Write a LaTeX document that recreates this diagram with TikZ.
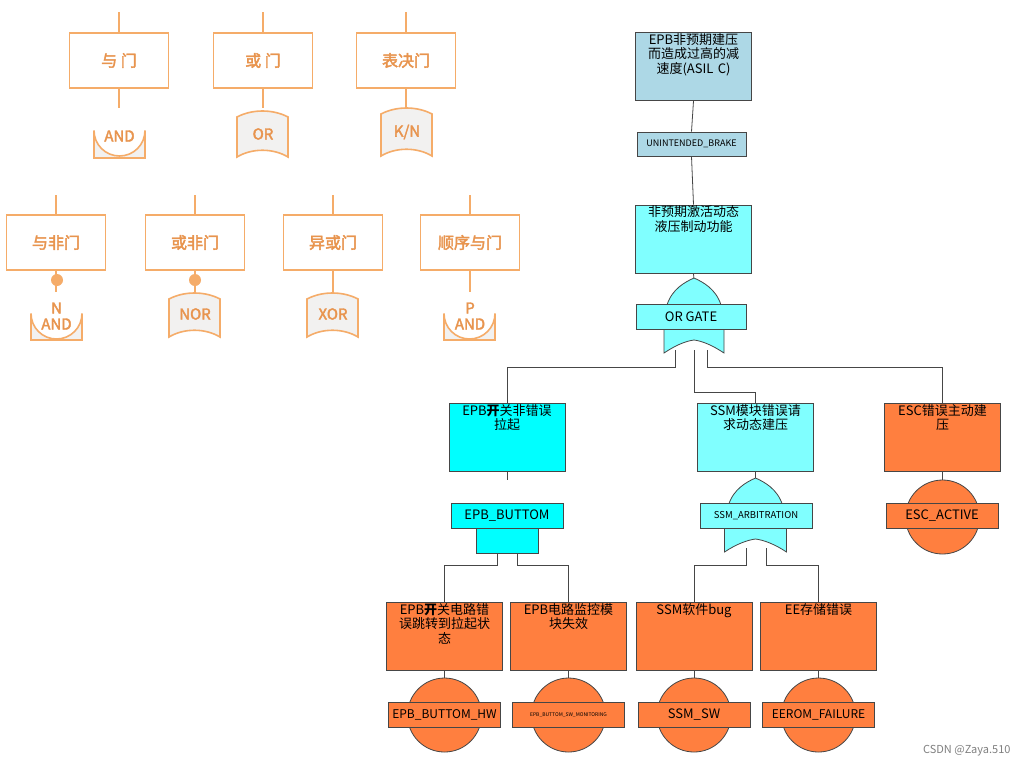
\documentclass[tikz,border=0pt]{standalone}
\usepackage{fontspec}
\setmainfont{Noto Sans CJK SC}
\newfontfamily\cjkb{Noto Sans CJK SC}[FakeBold=2.5]
\definecolor{lgo}{RGB}{245,172,105}
\definecolor{lgt}{RGB}{232,148,78}
\definecolor{lgf}{RGB}{242,241,240}
\definecolor{topb}{RGB}{173,216,230}
\definecolor{lcy}{RGB}{128,255,255}
\definecolor{cy}{RGB}{0,255,255}
\definecolor{org}{RGB}{255,127,63}
\definecolor{ln}{RGB}{70,70,70}
\tikzset{
 lbox/.style={draw=lgo,line width=1.6pt,fill=white,minimum width=99pt,minimum height=55pt,inner sep=0pt,font=\cjkb\fontsize{16}{18}\selectfont,text=lgt},
 lline/.style={draw=lgo,line width=1.6pt},
 lgate/.style={draw=lgo,line width=1.6pt,fill=lgf},
 ltxt/.style={font=\cjkb\fontsize{15}{16}\selectfont,text=lgt,align=center,inner sep=0pt},
 tbox/.style={draw=ln,line width=0.8pt,minimum width=116pt,minimum height=68pt,inner sep=0pt},
 ttxt/.style={font=\fontsize{13}{14.5}\selectfont,align=center,text width=118pt,inner sep=1pt},
 glab/.style={draw=ln,line width=0.8pt,minimum width=112pt,minimum height=25pt,inner sep=0pt,font=\fontsize{13}{14}\selectfont},
 gsh/.style={draw=ln,line width=0.8pt},
 conn/.style={draw=ln,line width=0.8pt},
}
\newcommand\LAnd[3]{% x1, ytop, ybot ; width 51
 \path[lgate] (#1,#3) -- (#1,{#2+25.5}) arc[start angle=180,end angle=0,radius=25.5] -- ({#1+51},#3) -- cycle;}
\newcommand\LOr[3]{%
 \path[lgate] (#1,#3) -- (#1,{#2+7}) .. controls ({#1+15},{#2-1}) and ({#1+36},{#2-1}) .. ({#1+51},{#2+7}) -- ({#1+51},#3) .. controls ({#1+36},{#3-9}) and ({#1+15},{#3-9}) .. (#1,#3) -- cycle;}
\newcommand\TOr[5]{% cx, dome top, label bottom, half width base, fill
 \path[gsh,fill=#5] ({#1-27},{#2+27}) .. controls ({#1-22},{#2+11}) and ({#1-9},{#2+4}) .. (#1,#2) .. controls ({#1+9},{#2+4}) and ({#1+22},{#2+11}) .. ({#1+27},{#2+27}) -- cycle;
 \path[gsh,fill=#5] ({#1-#4},{#3-2}) -- ({#1-#4},{#3+24}) .. controls ({#1-#4+12},{#3+16}) and ({#1-8},{#3+12}) .. (#1,{#3+11}) .. controls ({#1+8},{#3+12}) and ({#1+#4-12},{#3+16}) .. ({#1+#4},{#3+24}) -- ({#1+#4},{#3-2}) -- cycle;}
\begin{document}
\begin{tikzpicture}[x=1pt,y=-1pt]
\useasboundingbox[fill=white] (0,0) rectangle (1027,769);
% ---------- legend ----------
\foreach \cx/\t/\n in {119/与 门/la,263/或 门/lb,406/表决门/lc}{
 \node[lbox] (\n) at (\cx,60.5) {\t};
 \draw[lline] (\cx,12) -- (\n.north);
 \draw[lline] (\n.south) -- (\cx,108);
}
\LAnd{94}{105}{158}\node[ltxt] (ta) at (119.5,136) {AND};
\LOr{237}{110}{157}\node[ltxt] (tb) at (263,134) {OR};
\LOr{381}{107}{156}\node[ltxt] (tc) at (407,132) {K/N};
\foreach \cx/\t/\n in {56/与非门/ld,195/或非门/le,333/异或门/lf,470/顺序与门/lg}{
 \node[lbox] (\n) at (\cx,242.5) {\t};
 \draw[lline] (\cx,195) -- (\n.north);
}
\draw[lline] (ld.south) -- (56,292); \fill[lgo] (57,280) circle (6);
\draw[lline] (le.south) -- (195,295); \fill[lgo] (195,280) circle (6);
\draw[lline] (lf.south) -- (333,295);
\draw[lline] (lg.south) -- (470,292);
\LAnd{31}{288}{340}\node[ltxt] (td) at (56.5,316) {N\\AND};
\LOr{169}{292}{337}\node[ltxt] (te) at (195,314) {NOR};
\LOr{307}{292}{337}\node[ltxt] (tf) at (333,314) {XOR};
\LAnd{444}{288}{340}\node[ltxt] (tg) at (470,316) {P\\AND};
% ---------- tree ----------
\node[tbox,fill=topb,label={[ttxt,anchor=north]north:{EPB非预期建压\\而造成过高的减\\速度(ASIL C)}}] (top) at (693.5,66.5) {};
\node[glab,fill=topb,minimum width=109pt,minimum height=24pt,font=\fontsize{9}{10}\selectfont] (ub) at (691.5,144) {UNINTENDED\_BRAKE};
\node[tbox,fill=lcy,label={[ttxt,anchor=north]north:{非预期激活动态\\液压制动功能}}] (hyd) at (693.5,239) {};
\draw[conn] (top.south) -- (ub.north);
\draw[conn] (ub.south) -- (hyd.north);
\draw[conn] (hyd.south) -- (694,280);
\TOr{694}{278}{329}{30}{lcy}
\node[glab,fill=lcy,minimum width=110pt] (org) at (691,316.5) {OR GATE};
% level 2
\node[tbox,fill=cy,label={[ttxt,anchor=north]north:{EPB\textbf{开}关非错误\\拉起}}] (epb) at (507,437.5) {};
\node[tbox,fill=lcy,label={[ttxt,anchor=north]north:{SSM模块错误请\\求动态建压}}] (ssm) at (755.5,437.5) {};
\node[tbox,fill=org,label={[ttxt,anchor=north]north:{ESC错误主动建\\压}}] (esc) at (942.5,437.5) {};
\coordinate (o1) at (675,350); \coordinate (o2) at (694,350); \coordinate (o3) at (707,350);
\draw[conn] (o1) |- (507,367) -- (epb.north);
\draw[conn] (o2) |- (755.5,392) -- (ssm.north);
\draw[conn] (o3) |- (942.5,367) -- (esc.north);
% EPB AND gate
\draw[conn] (epb.south) -- (507,480);
\path[gsh,fill=cy] (477,505) arc[start angle=180,end angle=0,radius=30] -- cycle;
\path[gsh,fill=cy] (476,526) rectangle (538,553);
\node[glab,fill=cy] (eg) at (507,515.5) {EPB\_BUTTOM};
% SSM OR gate
\draw[conn] (ssm.south) -- (755.5,480);
\TOr{755.5}{478}{528}{31}{lcy}
\node[glab,fill=lcy,font=\fontsize{9.5}{10}\selectfont] (sg) at (756,515.5) {SSM\_ARBITRATION};
% ESC basic event
\draw[conn] (esc.south) -- (942.5,480);
\path[gsh,fill=org] (942.5,517) circle (37);
\node[glab,fill=org] (escl) at (942,515.5) {ESC\_ACTIVE};
% level 3
\node[tbox,fill=org,label={[ttxt,anchor=north]north:{EPB\textbf{开}关电路错\\误跳转到拉起状\\态}}] (b1) at (444.5,636.5) {};
\node[tbox,fill=org,label={[ttxt,anchor=north]north:{EPB电路监控模\\块失效}}] (b2) at (568.5,636.5) {};
\node[tbox,fill=org,label={[ttxt,anchor=north]north:{SSM软件bug}}] (b3) at (694,636.5) {};
\node[tbox,fill=org,label={[ttxt,anchor=north]north:{EE存储错误}}] (b4) at (818.5,636.5) {};
\draw[conn] (497,553) |- (444.5,565) -- (b1.north);
\draw[conn] (517,553) |- (568.5,565) -- (b2.north);
\draw[conn] (746,548) |- (694,565) -- (b3.north);
\draw[conn] (766,548) |- (818.5,565) -- (b4.north);
\foreach \n/\cx/\t/\f in {b1/444.5/EPB\_BUTTOM\_HW/12, b2/568.5/EPB\_BUTTOM\_SW\_MONITORING/5, b3/694/SSM\_SW/13, b4/818.5/EEROM\_FAILURE/12}{
 \draw[conn] (\n.south) -- (\cx,680);
 \path[gsh,fill=org] (\cx,715) circle (37);
 \node[glab,fill=org,font=\fontsize{\f}{\f}\selectfont] (\n l) at (\cx,714.5) {\t};
}
\node[font=\fontsize{11}{12}\selectfont,text=gray,anchor=east] (wm) at (1014,751) {CSDN @Zaya.510};
\end{tikzpicture}
\end{document}
